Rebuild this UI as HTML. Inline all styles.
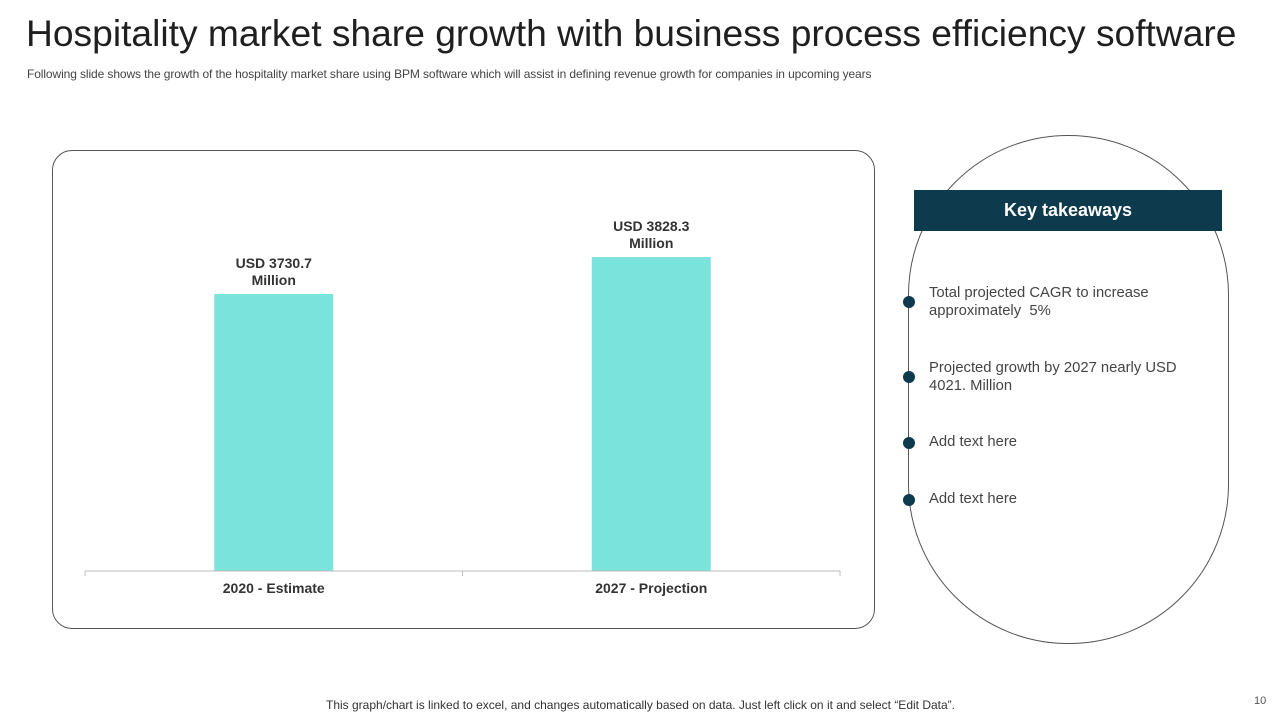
<!DOCTYPE html>
<html><head><meta charset="utf-8"><style>
body{margin:0;width:1280px;height:720px;background:#fff;font-family:"Liberation Sans",sans-serif;position:relative;overflow:hidden}
.a{position:absolute}
</style></head><body>
<div class="a" style="left:26px;top:12px;font-size:37.2px;color:#1f1f1f;white-space:nowrap">Hospitality market share growth with business process efficiency software</div>
<div class="a" style="left:27px;top:67px;font-size:12px;letter-spacing:-0.1px;color:#444;white-space:nowrap">Following slide shows the growth of the hospitality market share using BPM software which will assist in defining revenue growth for companies in upcoming years</div>
<div class="a" style="left:52px;top:150px;width:821px;height:477px;border:1px solid #555;border-radius:20px"></div>
<svg class="a" style="left:0;top:0" width="1280" height="720" id="chart"></svg>
<div class="a" style="left:908px;top:135px;width:319px;height:507px;border:1px solid #555;border-radius:160px"></div>
<div class="a" style="left:914px;top:190px;width:308px;height:41px;background:#0e3a4d;color:#fff;font-weight:bold;font-size:18px;line-height:41px;text-align:center">Key takeaways</div>
<div class="a" style="left:929px;top:284px;font-size:14.8px;color:#444;line-height:18px">Total projected CAGR to increase<br>approximately&nbsp; 5%</div>
<div class="a" style="left:929px;top:359px;font-size:14.8px;color:#444;line-height:18px">Projected growth by 2027 nearly USD<br>4021. Million</div>
<div class="a" style="left:929px;top:434px;font-size:14.8px;color:#444">Add text here</div>
<div class="a" style="left:929px;top:491px;font-size:14.8px;color:#444">Add text here</div>
<div class="a" style="left:903px;top:296px;width:12px;height:12px;border-radius:50%;background:#0e3a4d"></div>
<div class="a" style="left:903px;top:371px;width:12px;height:12px;border-radius:50%;background:#0e3a4d"></div>
<div class="a" style="left:903px;top:437px;width:12px;height:12px;border-radius:50%;background:#0e3a4d"></div>
<div class="a" style="left:903px;top:494px;width:12px;height:12px;border-radius:50%;background:#0e3a4d"></div>
<div class="a" style="left:326px;top:698px;font-size:12px;color:#333;white-space:nowrap">This graph/chart is linked to excel, and changes automatically based on data. Just left click on it and select “Edit Data”.</div>
<div class="a" style="left:1254px;top:695px;font-size:11px;color:#555">10</div>
<script>
const categories=["2020 - Estimate","2027 - Projection"];
const values=[3730.7,3828.3];
const valueLabels=["USD 3730.7","USD 3828.3"];
const yMin=3000,yMax=4000;
const x0=85,x1=840,yBase=571,pxPerUnit=0.379;
function yScale(v){return yBase-(v-yMin)*pxPerUnit;}
function xBand(i){const w=(x1-x0)/categories.length;return x0+w*i+w/2;}
const svg=document.getElementById('chart');const ns="http://www.w3.org/2000/svg";
function mk(t,a){const e=document.createElementNS(ns,t);for(const k in a)e.setAttribute(k,a[k]);svg.appendChild(e);return e;}
const bw=119;
categories.forEach((c,i)=>{
 const cx=xBand(i),y=yScale(values[i]);
 const r=mk('rect',{x:cx-bw/2,y:y,width:bw,height:yBase-y,fill:'#7ae3db'});
 
 
 const t=mk('text',{x:cx,y:y-26,'text-anchor':'middle','font-size':14,'font-weight':'bold',fill:'#333','font-family':'Liberation Sans'});
 
 
 t.textContent=valueLabels[i];
 const t2=mk('text',{x:cx,y:y-9,'text-anchor':'middle','font-size':14,'font-weight':'bold',fill:'#333','font-family':'Liberation Sans'});
 
 
 t2.textContent="Million";
 const l=mk('text',{x:cx,y:yBase+22,'text-anchor':'middle','font-size':14,'font-weight':'bold',fill:'#333','font-family':'Liberation Sans'});
 
 
 l.textContent=c;
});
const ax=mk('line',{x1:x0,x2:x1,y1:yBase,y2:yBase,stroke:'#bbb','stroke-width':1});


for(let i=0;i<=categories.length;i++){const tx=x0+(x1-x0)/categories.length*i;
 const tk=mk('line',{x1:tx,x2:tx,y1:yBase,y2:yBase+5,stroke:'#bbb'});
 
 }
</script>
</body></html>
